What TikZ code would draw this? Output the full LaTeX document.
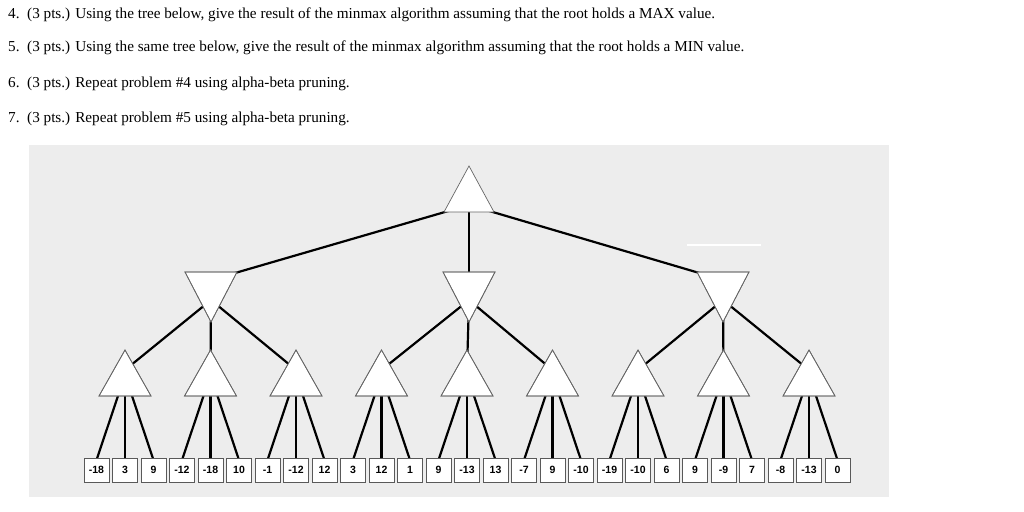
\documentclass[tikz,border=0pt]{standalone}
\usepackage{fontspec}
\setmainfont{Liberation Serif}
\newfontfamily\lsans{Liberation Sans}
\begin{document}
\begin{tikzpicture}[x=1pt,y=-1pt,
  q/.style={anchor=west,inner sep=0,font=\fontsize{15.2}{17}\selectfont},
  tri/.style={fill=white,draw=gray!80!black,line width=0.7pt},
  edge/.style={line width=2.2pt,black},
  leaf/.style={draw=gray!70!black,fill=white,minimum width=25pt,minimum height=24pt,inner sep=0,font=\lsans\bfseries\fontsize{10.5}{12}\selectfont}]
\useasboundingbox (0,0) rectangle (1024,511);
\fill[white] (0,0) rectangle (1024,511);
\node[q] (t4) at (8,15) {4.\ \ (3 pts.) Using the tree below, give the result of the minmax algorithm assuming that the root holds a MAX value.};
\node[q] (t5) at (8,48) {5.\ \ (3 pts.) Using the same tree below, give the result of the minmax algorithm assuming that the root holds a MIN value.};
\node[q] (t6) at (8,84) {6.\ \ (3 pts.) Repeat problem \#4 using alpha-beta pruning.};
\node[q] (t7) at (8,119) {7.\ \ (3 pts.) Repeat problem \#5 using alpha-beta pruning.};
\fill[gray!14] (29,145) rectangle (889,497);
\foreach \c in {211,469,723}{
  \draw[edge] (469,205) -- (\c,280);
}
\foreach \m/\k in {211/0,469/1,723/2}{
  \foreach \d in {-1,0,1}{
    \pgfmathsetmacro{\xc}{125+85.5*(3*\k+\d+1)}
    \draw[edge] (\m,300) -- (\xc,370);
  }
}
\foreach \j in {0,...,8}{
  \pgfmathsetmacro{\xc}{125+85.5*\j}
  \foreach \d in {-1,0,1}{
    \draw[edge] (\xc+\d*5,390) -- (\xc+\d*28.5,460);
  }
}
\foreach \c in {211,469,723}{
  \fill[tri] (\c-26,272) -- (\c+26,272) -- (\c,322) -- cycle;
  \draw[gray!80!black,line width=0.7pt] (\c-26,272) -- (\c+26,272) -- (\c,322) -- cycle;
}
\draw[white,line width=1.5pt] (687,245) -- (761,245);
\foreach \j in {0,...,8}{
  \pgfmathsetmacro{\xc}{125+85.5*\j}
  \fill[tri] (\xc-26,396) -- (\xc+26,396) -- (\xc,350) -- cycle;
  \draw[gray!80!black,line width=0.7pt] (\xc-26,396) -- (\xc+26,396) -- (\xc,350) -- cycle;
}
\fill[white] (444,212) -- (494,212) -- (469,166) -- cycle;
\draw[gray!80!black,line width=0.7pt] (444,212) -- (494,212) -- (469,166) -- cycle;
\foreach \v [count=\i from 0] in {-18,3,9,-12,-18,10,-1,-12,12,3,12,1,9,-13,13,-7,9,-10,-19,-10,6,9,-9,7,-8,-13,0}{
  \node[leaf] (l\i) at (96.5+28.5*\i,470) {\v};
}
\end{tikzpicture}
\end{document}
